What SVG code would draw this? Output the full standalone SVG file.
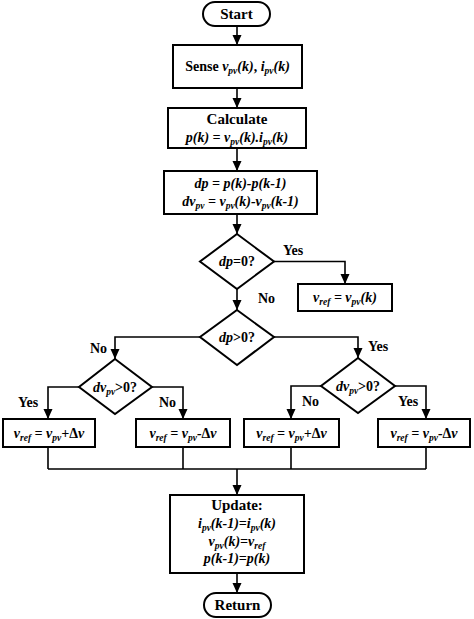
<svg xmlns="http://www.w3.org/2000/svg" width="474" height="619" viewBox="0 0 474 619">
<style>
.s{fill:#fff;stroke:#000;stroke-width:2}
.c{fill:none;stroke:#000;stroke-width:1.6}
text{font-family:"Liberation Serif","Times New Roman",serif;font-weight:bold;font-size:14px;fill:#000}
.m{font-style:italic}
.n{font-style:normal}
.t{text-anchor:middle}
.b{font-size:9.5px}
</style>
<defs>
<marker id="a" markerUnits="userSpaceOnUse" markerWidth="10" markerHeight="10" refX="10" refY="5" orient="auto">
<path d="M0,0.5 L10,5 L0,9.5 z" fill="#000"/>
</marker>
</defs>
<rect width="474" height="619" fill="#fff"/>
<g id="connectors">
<path class="c" d="M237,26 V45" marker-end="url(#a)"/>
<path class="c" d="M237,88 V108" marker-end="url(#a)"/>
<path class="c" d="M237,148 V171" marker-end="url(#a)"/>
<path class="c" d="M237,214 V234" marker-end="url(#a)"/>
<path class="c" d="M274,261.5 H345 V284" marker-end="url(#a)"/>
<path class="c" d="M237,289 V310" marker-end="url(#a)"/>
<path class="c" d="M200,337 H115 V359" marker-end="url(#a)"/>
<path class="c" d="M274,337 H358 V358" marker-end="url(#a)"/>
<path class="c" d="M79,387 H48 V419" marker-end="url(#a)"/>
<path class="c" d="M152,387 H183 V419" marker-end="url(#a)"/>
<path class="c" d="M321,386 H291 V419" marker-end="url(#a)"/>
<path class="c" d="M395,386 H426 V419" marker-end="url(#a)"/>
<path class="c" d="M48,447 V469 M183,447 V469 M291,447 V469 M426,447 V469 M48,469 H426"/>
<path class="c" d="M237,469 V495" marker-end="url(#a)"/>
<path class="c" d="M237,573 V593" marker-end="url(#a)"/>
<text x="283" y="255">Yes</text>
<text x="258" y="303">No</text>
<text x="90" y="353">No</text>
<text x="368" y="351">Yes</text>
<text x="18" y="407">Yes</text>
<text x="159" y="407">No</text>
<text x="302" y="406">No</text>
<text x="398" y="406">Yes</text>
</g>
<g id="start">
<rect class="s" x="203" y="2" width="67" height="24" rx="12"/>
<text class="t" x="236.5" y="19" style="font-size:15px">Start</text>
</g>
<g id="sense">
<rect class="s" x="173" y="45" width="129" height="43"/>
<text class="t" x="237.5" y="71">Sense <tspan class="m">v<tspan class="b" dy="3">pv</tspan><tspan dy="-3">(k)</tspan></tspan>, <tspan class="m">i<tspan class="b" dy="3">pv</tspan><tspan dy="-3">(k)</tspan></tspan></text>
</g>
<g id="calculate">
<rect class="s" x="168" y="108" width="138" height="40"/>
<text class="t" x="237" y="124" style="font-size:15px">Calculate</text>
<text class="t m" x="237" y="142">p(k) = v<tspan class="b" dy="3">pv</tspan><tspan dy="-3">(k).i</tspan><tspan class="b" dy="3">pv</tspan><tspan dy="-3">(k)</tspan></text>
</g>
<g id="diff">
<rect class="s" x="164" y="171" width="153" height="43"/>
<text class="t m" x="240.5" y="188">dp = p(k)-p(k-1)</text>
<text class="t m" x="240.5" y="206">dv<tspan class="b" dy="3">pv</tspan><tspan dy="-3"> = v</tspan><tspan class="b" dy="3">pv</tspan><tspan dy="-3">(k)-v</tspan><tspan class="b" dy="3">pv</tspan><tspan dy="-3">(k-1)</tspan></text>
</g>
<g id="dec1">
<polygon class="s" points="237,234 274,261.5 237,289 200,261.5"/>
<text class="t" x="237" y="266"><tspan class="m">dp</tspan>=0?</text>
</g>
<g id="hold">
<rect class="s" x="298" y="284" width="94" height="27"/>
<text class="t m" x="345" y="302">v<tspan class="b" dy="3">ref</tspan><tspan dy="-3"> = v</tspan><tspan class="b" dy="3">pv</tspan><tspan dy="-3">(k)</tspan></text>
</g>
<g id="dec2">
<polygon class="s" points="237,310 274,337 237,365 200,337"/>
<text class="t" x="237" y="342"><tspan class="m">dp</tspan>&gt;0?</text>
</g>
<g id="dec3">
<polygon class="s" points="115,359 152,387 115,414 79,387"/>
<text class="t" x="115" y="392"><tspan class="m">dv<tspan class="b" dy="3">pv</tspan></tspan><tspan dy="-3">&gt;0?</tspan></text>
</g>
<g id="dec4">
<polygon class="s" points="358,358 395,386 358,413 321,386"/>
<text class="t" x="358" y="391"><tspan class="m">dv<tspan class="b" dy="3">pv</tspan></tspan><tspan dy="-3">&gt;0?</tspan></text>
</g>
<g id="box3l">
<rect class="s" x="3" y="419" width="92" height="28"/>
<text class="t m" x="49" y="438">v<tspan class="b" dy="3">ref</tspan><tspan dy="-3"> = v</tspan><tspan class="b" dy="3">pv</tspan><tspan dy="-3">+</tspan><tspan class="n">Δ</tspan>v</text>
</g>
<g id="box3r">
<rect class="s" x="136" y="419" width="94" height="28"/>
<text class="t m" x="183" y="438">v<tspan class="b" dy="3">ref</tspan><tspan dy="-3"> = v</tspan><tspan class="b" dy="3">pv</tspan><tspan dy="-3">-</tspan><tspan class="n">Δ</tspan>v</text>
</g>
<g id="box4l">
<rect class="s" x="244" y="419" width="95" height="28"/>
<text class="t m" x="291.5" y="438">v<tspan class="b" dy="3">ref</tspan><tspan dy="-3"> = v</tspan><tspan class="b" dy="3">pv</tspan><tspan dy="-3">+</tspan><tspan class="n">Δ</tspan>v</text>
</g>
<g id="box4r">
<rect class="s" x="378" y="419" width="92" height="28"/>
<text class="t m" x="424" y="438">v<tspan class="b" dy="3">ref</tspan><tspan dy="-3"> = v</tspan><tspan class="b" dy="3">pv</tspan><tspan dy="-3">-</tspan><tspan class="n">Δ</tspan>v</text>
</g>
<g id="update">
<rect class="s" x="170" y="495" width="134" height="78"/>
<text class="t" x="237" y="510" style="font-size:15px">Update:</text>
<text class="t m" x="237" y="528">i<tspan class="b" dy="3">pv</tspan><tspan dy="-3">(k-1)=i</tspan><tspan class="b" dy="3">pv</tspan><tspan dy="-3">(k)</tspan></text>
<text class="t m" x="237" y="546">v<tspan class="b" dy="3">pv</tspan><tspan dy="-3">(k)=v</tspan><tspan class="b" dy="3">ref</tspan></text>
<text class="t m" x="237" y="563">p(k-1)=p(k)</text>
</g>
<g id="return">
<rect class="s" x="204" y="593" width="67" height="24" rx="12"/>
<text class="t" x="237.5" y="610" style="font-size:15px">Return</text>
</g>
</svg>
